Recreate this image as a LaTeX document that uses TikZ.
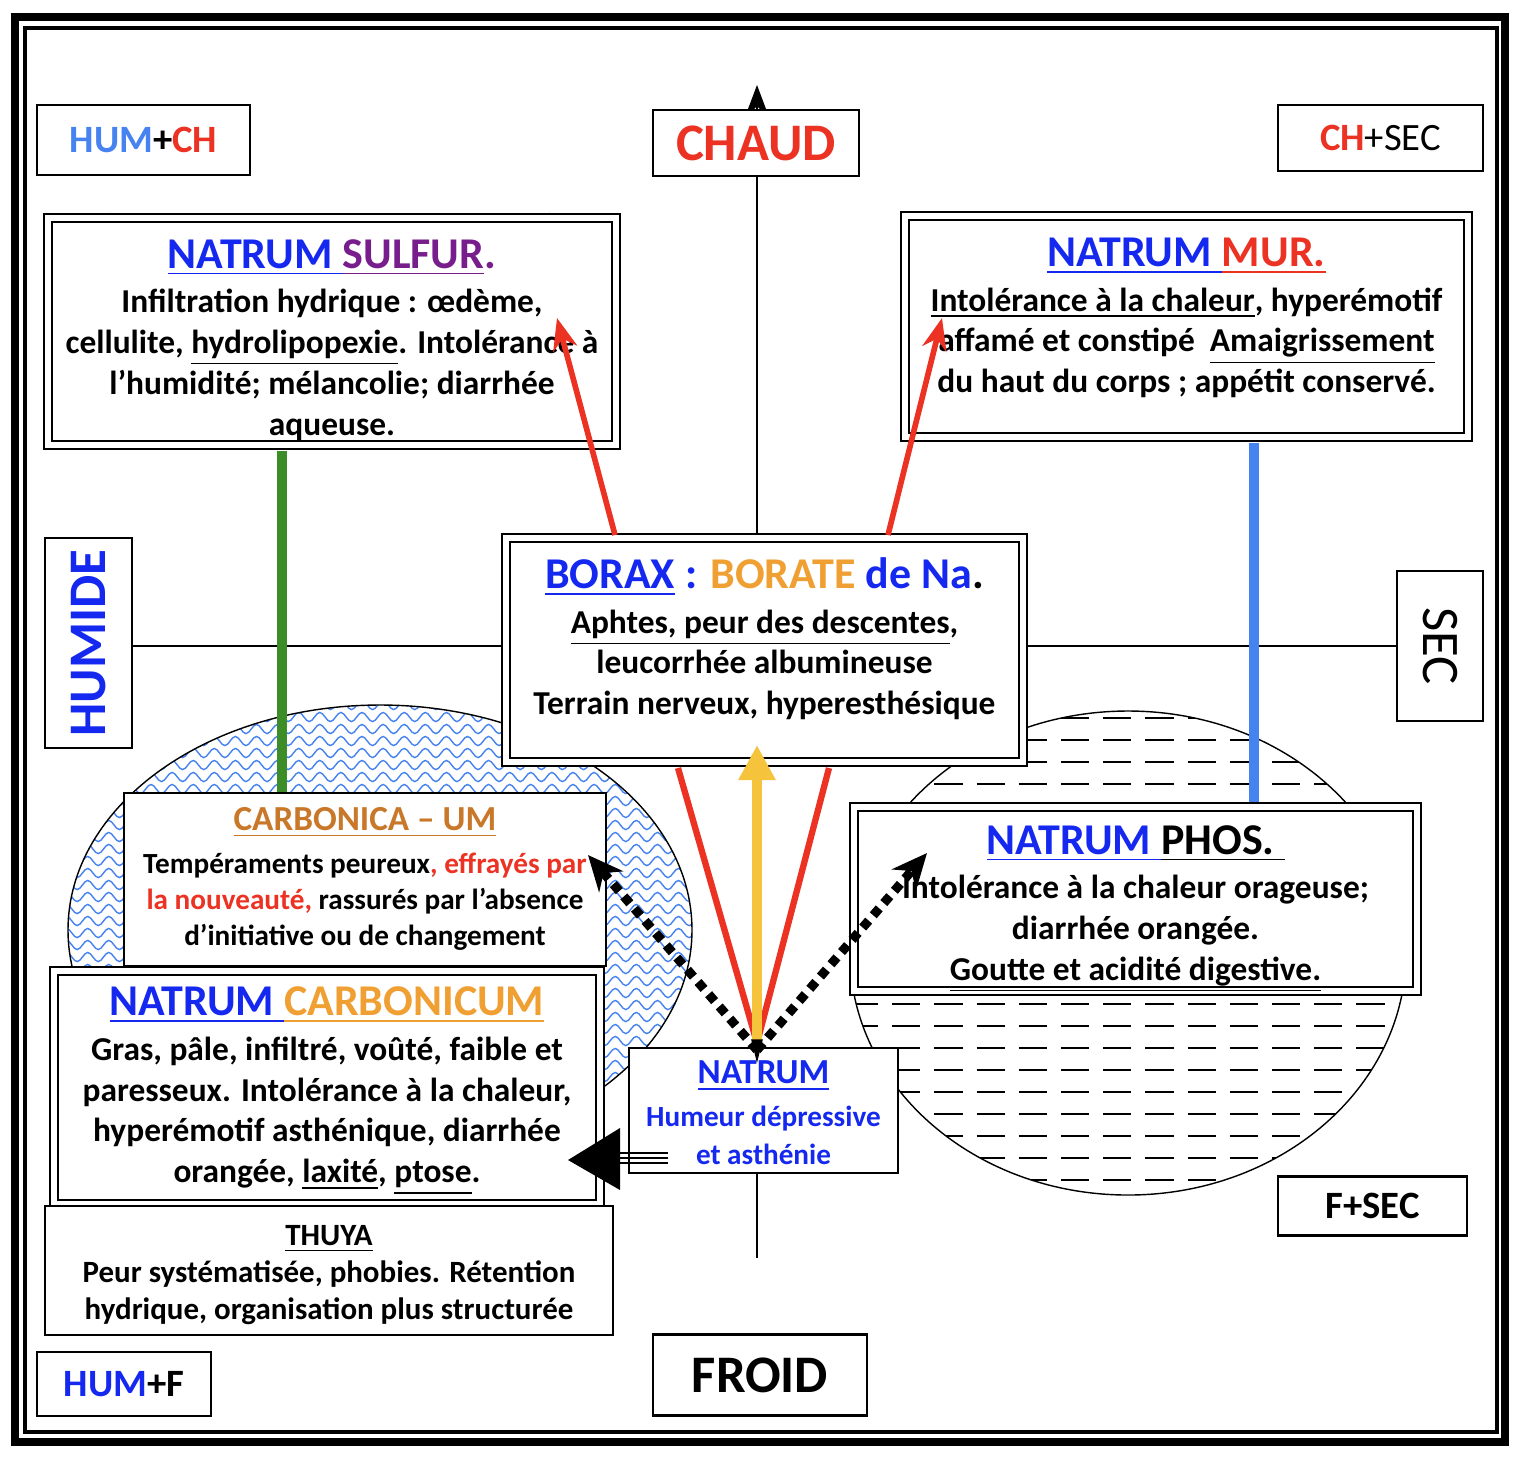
\documentclass[tikz,border=0pt]{standalone}
\usepackage{fontspec}
\setmainfont{Carlito}
\usetikzlibrary{arrows.meta,decorations.pathmorphing}
\definecolor{tblue}{RGB}{20,40,240}
\definecolor{tred}{RGB}{235,50,35}
\definecolor{torange}{RGB}{240,160,50}
\definecolor{tbrown}{RGB}{200,120,40}
\definecolor{tpurple}{RGB}{120,30,140}
\definecolor{tgreen}{RGB}{60,140,40}
\definecolor{lblue}{RGB}{70,130,240}
\definecolor{tyellow}{RGB}{245,195,60}
\newcommand\myttl{\fontsize{12.5}{15}\selectfont}
\tikzset{
 box/.style={draw,thick,fill=white,inner sep=0},
 dbox/.style={draw,double,double distance=1.5pt,thick,fill=white,inner sep=0},
 txt/.style={align=center,inner sep=0,font=\bfseries\fontsize{9.5}{11.6}\selectfont},
 redarr/.style={tred,line width=1.6pt,-{Stealth[length=9pt,width=7pt]}},
 dotarr/.style={dotted,line width=2.6pt,-{Stealth[length=10pt,width=9pt]}}
}
\begin{document}
\begin{tikzpicture}[x=0.01cm,y=-0.01cm]
\useasboundingbox (0,0) rectangle (1530,1462);
\draw[line width=2.5pt] (15,17) rectangle (1505,1442);
\draw[line width=1pt] (25,28) rectangle (1497,1432);
% hatched areas
\begin{scope}
\clip (110,213) arc[start angle=180,end angle=0,x radius=220,y radius=50] -- cycle;
\foreach \x in {110,117,...,560} \draw[tred,thin] (\x,150)--(\x,215);
\end{scope}
\draw (110,213) arc[start angle=180,end angle=0,x radius=220,y radius=50];
\begin{scope}
\clip (945,213) arc[start angle=180,end angle=0,x radius=215,y radius=58] -- cycle;
\foreach \x in {945,952,...,1380} \draw[tgreen,thin] (\x,150)--(\x,215);
\end{scope}
\draw (945,213) arc[start angle=180,end angle=0,x radius=215,y radius=58];
\begin{scope}
\clip (380,930) ellipse[x radius=312,y radius=225];
\foreach \y in {705,717,...,1160} \draw[lblue,decorate,decoration={snake,amplitude=1.3pt,segment length=6pt}] (60,\y)--(700,\y);
\end{scope}
\draw (380,930) ellipse[x radius=312,y radius=225];
\begin{scope}
\clip (1128,953) ellipse[x radius=278,y radius=242];
\foreach \y in {718,740,...,1200} \draw[dashed,dash pattern=on 8pt off 4pt,line width=0.8pt] (850,\y)--(1410,\y);
\end{scope}
\draw (1128,953) ellipse[x radius=278,y radius=242];
% axes
\coordinate (top) at (757,85); \coordinate (bot) at (757,1258);
\coordinate (lft) at (133,646); \coordinate (rgt) at (1475,646);
\draw[-{Stealth[length=9pt]}] (bot)--(top);
\draw[-{Stealth[length=9pt]}] (lft)--(rgt);
% corner labels
\node[box,minimum width=213*0.01cm,minimum height=70*0.01cm] (hc) at (143.5,140) {\fontsize{11}{13}\selectfont\bfseries\textcolor{lblue}{HUM}+\textcolor{tred}{CH}};
\node[box,minimum width=205*0.01cm,minimum height=66*0.01cm] (cs) at (1380.5,138) {\fontsize{11}{13}\selectfont\textcolor{tred}{\bfseries CH}+SEC};
\node[box,minimum width=189*0.01cm,minimum height=59*0.01cm] (fs) at (1372.5,1206) {\fontsize{11}{13}\selectfont\bfseries F+SEC};
\node[box,minimum width=174*0.01cm,minimum height=64*0.01cm] (hf) at (124,1384) {\fontsize{11}{13}\selectfont\bfseries\textcolor{tblue}{HUM}+F};
\node[box,minimum width=206*0.01cm,minimum height=66*0.01cm] (chaud) at (756,143) {\raisebox{-4pt}{\fontsize{15}{18}\selectfont\bfseries\textcolor{tred}{CHAUD}}};
\node[box,minimum width=214*0.01cm,minimum height=81*0.01cm] (froid) at (760,1375) {\fontsize{15}{18}\selectfont\bfseries FROID};
\node[box,minimum width=87*0.01cm,minimum height=210*0.01cm] (hum) at (88.5,643) {\rotatebox{90}{\fontsize{15}{18}\selectfont\bfseries\textcolor{tblue}{HUMIDE}}};
\node[box,minimum width=86*0.01cm,minimum height=150*0.01cm] (sec) at (1440,646) {\rotatebox{-90}{\fontsize{15}{18}\selectfont SEC}};
% connectors green/blue
\draw[tgreen,line width=3pt] (282,451)--(282,795);
\draw[lblue,line width=3pt] (1254,443)--(1254,803);
% boxes
\node[dbox,minimum width=568*0.01cm,minimum height=227*0.01cm] (sulf) at (332,331.5) {};
\node[txt] (sulft) at (332,340)
 {{\myttl\textcolor{tblue}{\underline{NATRUM }}\textcolor{tpurple}{\underline{SULFUR}.}}\\[1pt]
 Infiltration hydrique : œdème,\\ cellulite, \underline{hydrolipopexie}. Intolérance à\\ l’humidité; mélancolie; diarrhée\\ aqueuse.};
\node[dbox,minimum width=563*0.01cm,minimum height=221*0.01cm] (mur) at (1186.5,326.5) {};
\node[txt] (murt) at (1186.5,318)
 {{\myttl\textcolor{tblue}{\underline{NATRUM }}\textcolor{tred}{\underline{MUR.}}}\\[1pt]
 \underline{Intolérance à la chaleur}, hyperémotif\\ affamé et constipé\ \ \underline{Amaigrissement}\\ du haut du corps ; appétit conservé.};
\node[dbox,minimum width=517*0.01cm,minimum height=224*0.01cm] (borax) at (764.5,650) {};
\node[txt] (boraxt) at (764.5,639)
 {{\myttl\textcolor{tblue}{\underline{BORAX} : }\textcolor{torange}{BORATE}~\textcolor{tblue}{de Na}.}\\[1pt]
 \underline{Aphtes, peur des descentes},\\ leucorrhée albumineuse\\ Terrain nerveux, hyperesthésique};
\node[dbox,minimum width=563*0.01cm,minimum height=184*0.01cm] (phos) at (1135.5,899) {};
\node[txt] (phost) at (1135.5,909)
 {{\myttl\textcolor{tblue}{\underline{NATRUM }}\underline{PHOS.\ }}\\[1pt]
 Intolérance à la chaleur orageuse;\\ diarrhée orangée.\\ \underline{Goutte et acidité digestive.}};
\node[box,minimum width=482*0.01cm,minimum height=173*0.01cm] (carb) at (365,879.5) {};
\node[txt,font=\bfseries\fontsize{8.3}{10.3}\selectfont] (carbt) at (365,879)
 {{\fontsize{10}{12}\selectfont\textcolor{tbrown}{\underline{CARBONICA – UM}}}\\[2pt]
 Tempéraments peureux\textcolor{tred}{, effrayés par}\\ \textcolor{tred}{la nouveauté,} rassurés par l’absence\\ d’initiative ou de changement};
\node[dbox,minimum width=546*0.01cm,minimum height=233*0.01cm] (ncarb) at (327,1087.5) {};
\node[txt] (ncarbt) at (327,1091)
 {{\myttl\textcolor{tblue}{\underline{NATRUM }}\textcolor{torange}{\underline{CARBONICUM}}}\\[1pt]
 Gras, pâle, infiltré, voûté, faible et\\ paresseux. Intolérance à la chaleur,\\ hyperémotif asthénique, diarrhée\\ orangée, \underline{laxité}, \underline{ptose}.};
\node[box,minimum width=568*0.01cm,minimum height=129*0.01cm] (thuya) at (329,1270.5) {};
\node[txt,font=\bfseries\fontsize{8.8}{10.6}\selectfont] (thuyat) at (329,1275)
 {\underline{THUYA}\\ Peur systématisée, phobies. Rétention\\ hydrique, organisation plus structurée};
\node[box,minimum width=269*0.01cm,minimum height=125*0.01cm] (natrum) at (763.5,1110.5) {};
\node[txt,font=\bfseries\fontsize{8.3}{11}\selectfont] (natrumt) at (763.5,1113)
 {{\fontsize{10}{12}\selectfont\textcolor{tblue}{\underline{NATRUM}}}\\[1pt]\textcolor{tblue}{Humeur dépressive}\\ \textcolor{tblue}{et asthénie}};
% arrows
\coordinate (hub) at (757,1043);
\coordinate (s1) at (615,535); \coordinate (s2) at (888,535);
\draw[redarr] (s1)--(557,318);
\draw[redarr] (s2)--(942,318);
\draw[tred,line width=1.8pt] (hub)--(678,768);
\draw[tred,line width=1.8pt] (hub)--(829,768);
\draw[tyellow,line width=3pt,-{Triangle[length=10pt,width=10pt]}] (hub)--(757,745);
\draw[dotarr] (757,1050)--(588,855);
\draw[dotarr] (757,1050)--(927,853);
\draw[fill=black] (752,1040)--(762,1040)--(757,1060)--cycle;
\draw[line width=0.8pt] (668,1153)--(612,1153) (668,1158)--(612,1158) (668,1163)--(612,1163);
\fill (620,1128)--(620,1190)--(568,1160)--cycle;
\end{tikzpicture}
\end{document}
